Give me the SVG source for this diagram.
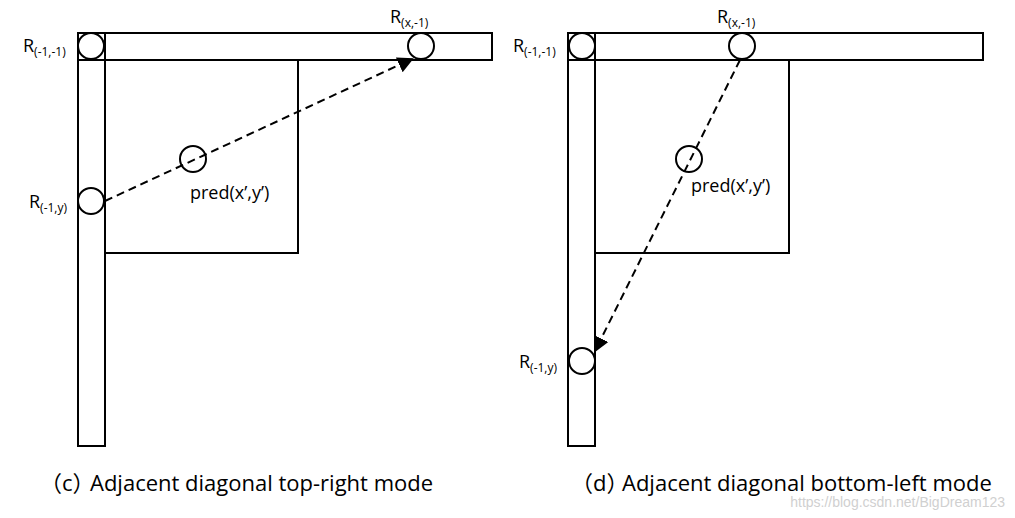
<svg xmlns="http://www.w3.org/2000/svg" width="1015" height="518" viewBox="0 0 1015 518">
<style>
.s{fill:none;stroke:#000;stroke-width:2}
.c{fill:#fff;stroke:#000;stroke-width:2}
.d{fill:none;stroke:#000;stroke-width:2;stroke-dasharray:8,5}
text{font-family:"Open Sans","DejaVu Sans",sans-serif;fill:#000}
.l{font-size:18px}
.sub{font-size:12px}
.cap{font-size:22px;font-family:"Open Sans","Noto Sans CJK SC",sans-serif}
</style>
<defs><marker id="a" markerWidth="18" markerHeight="18" refX="14" refY="8" orient="auto" markerUnits="userSpaceOnUse"><path d="M0,0 L16,8 L0,16 z" fill="#000"/></marker></defs>
<rect width="1015" height="518" fill="#fff"/>
<g id="c-panel">
<rect class="s" x="78" y="33" width="414" height="27"/>
<rect class="s" x="78" y="33" width="27" height="413"/>
<rect class="s" x="105" y="60" width="193" height="193"/>
<circle class="c" cx="91" cy="46" r="13"/>
<circle class="c" cx="421" cy="46" r="13"/>
<circle class="c" cx="91" cy="201" r="13"/>
<circle class="s" cx="193" cy="159" r="13"/>
</g>
<g id="d-panel">
<rect class="s" x="568" y="33" width="415" height="27"/>
<rect class="s" x="568" y="33" width="27" height="413"/>
<rect class="s" x="595" y="60" width="194" height="193"/>
<circle class="c" cx="582" cy="46" r="13"/>
<circle class="c" cx="742" cy="46" r="13"/>
<circle class="c" cx="582" cy="361" r="13"/>
<circle class="s" cx="689" cy="159" r="13"/>
</g>
<g id="connectors">
<line class="d" x1="105" y1="201" x2="412" y2="59" marker-end="url(#a)"/>
<line class="d" x1="740" y1="60" x2="595" y2="351" marker-end="url(#a)"/>
</g>
<g id="labels">
<text class="l" x="23" y="52">R<tspan class="sub" dy="4">(-1,-1)</tspan></text>
<text class="l" x="390" y="23">R<tspan class="sub" dy="4">(x,-1)</tspan></text>
<text class="l" x="29" y="208">R<tspan class="sub" dy="4">(-1,y)</tspan></text>
<text class="l" x="190" y="199">pred(x’,y’)</text>
<text class="l" x="513" y="52">R<tspan class="sub" dy="4">(-1,-1)</tspan></text>
<text class="l" x="717" y="23">R<tspan class="sub" dy="4">(x,-1)</tspan></text>
<text class="l" x="519" y="368">R<tspan class="sub" dy="4">(-1,y)</tspan></text>
<text class="l" x="691" y="192">pred(x’,y’)</text>
<text class="cap" x="40" y="491">（c）<tspan x="90">Adjacent diagonal top-right mode</tspan></text>
<text class="cap" x="571" y="491">（d）<tspan x="622">Adjacent diagonal bottom-left mode</tspan></text>
<text x="1005" y="507" font-size="14" text-anchor="end" style="fill:#d0d0d0;font-family:'Liberation Sans',sans-serif">https://blog.csdn.net/BigDream123</text>
</g>
</svg>
